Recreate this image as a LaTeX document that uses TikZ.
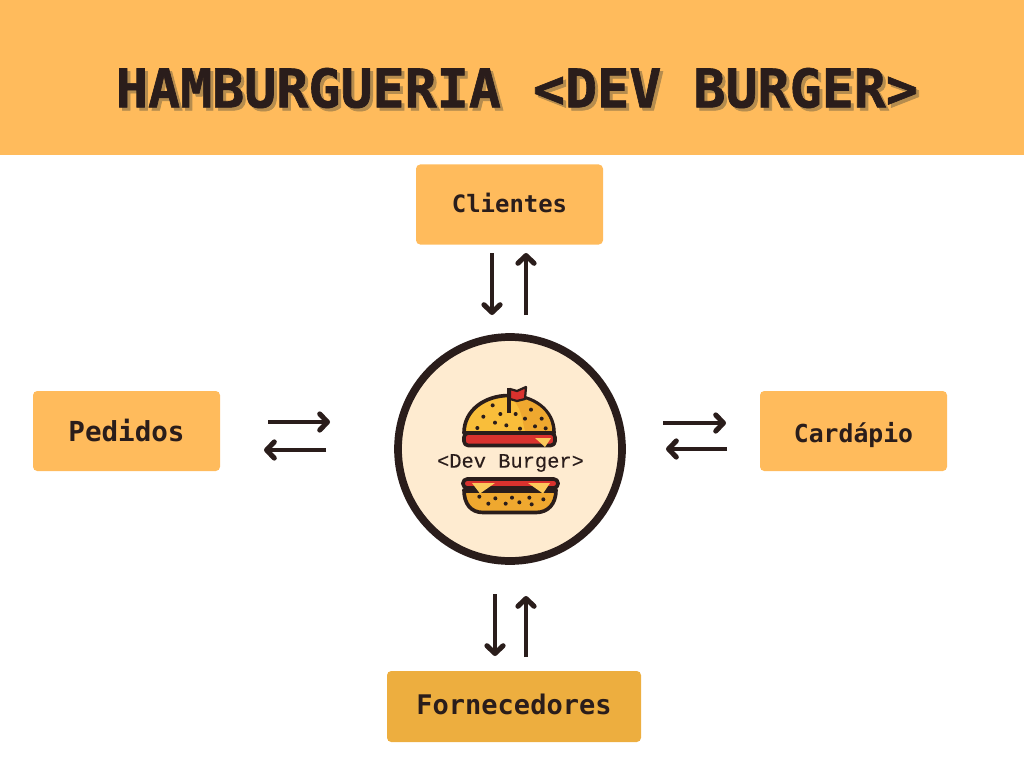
\documentclass[tikz,border=0pt]{standalone}
\usepackage{fontspec}
\setmainfont{DejaVu Sans Mono}
\newfontfamily\logofont[FakeBold=0.2]{Liberation Mono}
\newfontfamily\titlefont[FakeBold=1.2]{DejaVu Sans Mono Bold}
\usetikzlibrary{arrows.meta}

\definecolor{header}{HTML}{FFBB5C}
\definecolor{darkbox}{HTML}{EDAE3F}
\definecolor{ink}{HTML}{2A1D1B}
\definecolor{titleshade}{HTML}{B58C4E}
\definecolor{cream}{HTML}{FEEBD0}
\definecolor{bun}{HTML}{F9BE3A}
\definecolor{bunshade}{HTML}{EFA82F}
\definecolor{patty}{HTML}{D9322E}
\definecolor{cheese}{HTML}{FBC95A}

\newcommand{\px}{0.025cm}

\tikzset{
    box/.style={fill=header,rounded corners=3pt,text=ink,font=\bfseries,minimum width=187*\px,minimum height=80*\px,inner sep=0pt,text depth=0pt},
    flow/.style={ink,line width=3.2pt,-{Straight Barb[round,length=5.5pt,width=11.5pt,line width=3.6pt]}},
    outline/.style={draw=ink,line width=2.6pt,line join=round},
    titletext/.style={font=\titlefont\fontsize{37.9}{40}\selectfont}
}

\begin{document}
\begin{tikzpicture}[x=\px,y=-\px]

    \useasboundingbox (0,0) rectangle (1024,768);

    % title band
    \fill [header] (0,0) rectangle (1024,155);
    \node (titleshadow) at (520,91) [titletext,text=titleshade] {HAMBURGUERIA <DEV BURGER>};
    \node (title) at (517,88) [titletext,text=ink] {HAMBURGUERIA <DEV BURGER>};

    % boxes
    \node (clientes) at (509.5,204.5) [box,text height=12pt] {\fontsize{17}{20}\selectfont Clientes};
    \node (pedidos) at (126.5,431) [box,text height=15.6pt] {\fontsize{19.6}{22}\selectfont Pedidos};
    \node (cardapio) at (853.5,431) [box,text height=17pt] {\fontsize{17.6}{20}\selectfont Cardápio};
    \node (fornecedores) at (514,706.5) [box,fill=darkbox,minimum width=254*\px,minimum height=71*\px,text height=12pt] {\fontsize{19.2}{22}\selectfont Fornecedores};

    % center circle
    \node (center) at (510,449) [circle,draw=ink,fill=cream,line width=5.5pt,minimum size=224*\px,inner sep=0pt] {};

    % top bun
    \draw [outline,fill=bun] (464,433) .. controls (464,410) and (485,395.5) .. (509,395.5)
        .. controls (533,395.5) and (554,410) .. (554,433) -- cycle;
    \fill [bunshade] (509,397) .. controls (533,397) and (552,411) .. (552,431) -- (525,431)
        .. controls (522,420) and (522,405) .. (509,397) -- cycle;
    \draw [outline,fill=patty,rounded corners=3pt] (464,433) rectangle (555,445.5);
    \fill [cheese] (535,438) -- (551,438) -- (545,447) -- cycle;

    % flag
    \draw [ink,line width=2.4pt] (509,388) -- (509,413);
    \draw [ink,line width=1.6pt,fill=patty,line join=round] (510,389) -- (517,391) -- (526,387) -- (525,399) -- (517,401) -- (510,399) -- cycle;

    % seeds on the bun
    \foreach \a/\b in {308/226,280/260,331/252,377/252,423/239,405/266,455/266,315/278,349/286,262/294,390/296,435/289,467/295}
        \fill [ink] (390+\a/3,330+\b/3) circle [radius=2];

    % logo text
    \node (logo) at (510.5,463) [ink,font=\logofont\fontsize{14.5}{16}\selectfont] {<Dev Burger>};

    % bottom bun
    \draw [outline,fill=bunshade] (464,490) -- (556,490) .. controls (556,504) and (548,512.5) .. (536,512.5)
        -- (483,512.5) .. controls (471,512.5) and (464,504) .. (464,490) -- cycle;
    \draw [outline,fill=patty,rounded corners=3pt] (463,479) rectangle (558,488);
    \fill [ink] (466,488) rectangle (555,493);
    \fill [cheese] (472,483) -- (495,483) -- (480,493.5) -- cycle;
    \fill [cheese] (528,483) -- (550,483) -- (543,493.5) -- cycle;

    % seeds below
    \foreach \a/\b in {268/500,316/505,366/503,418/503,460/508,295/521,347/521,388/517,425/523}
        \fill [ink] (390+\a/3,330+\b/3) circle [radius=2];

    % arrow ends
    \coordinate (clientesDownA) at (492,253);
    \coordinate (clientesDownB) at (492,315);
    \coordinate (clientesUpA) at (526,315);
    \coordinate (clientesUpB) at (526,253);
    \coordinate (pedidosRightA) at (268,422);
    \coordinate (pedidosRightB) at (330,422);
    \coordinate (pedidosLeftA) at (326,450);
    \coordinate (pedidosLeftB) at (264,450);
    \coordinate (cardapioRightA) at (663,423);
    \coordinate (cardapioRightB) at (726,423);
    \coordinate (cardapioLeftA) at (727,449);
    \coordinate (cardapioLeftB) at (666,449);
    \coordinate (fornDownA) at (495,594);
    \coordinate (fornDownB) at (495,656);
    \coordinate (fornUpA) at (526,657);
    \coordinate (fornUpB) at (526,596);

    % arrows
    \draw [flow] (clientesDownA) -- (clientesDownB);
    \draw [flow] (clientesUpA) -- (clientesUpB);
    \draw [flow] (pedidosRightA) -- (pedidosRightB);
    \draw [flow] (pedidosLeftA) -- (pedidosLeftB);
    \draw [flow] (cardapioRightA) -- (cardapioRightB);
    \draw [flow] (cardapioLeftA) -- (cardapioLeftB);
    \draw [flow] (fornDownA) -- (fornDownB);
    \draw [flow] (fornUpA) -- (fornUpB);

\end{tikzpicture}
\end{document}
